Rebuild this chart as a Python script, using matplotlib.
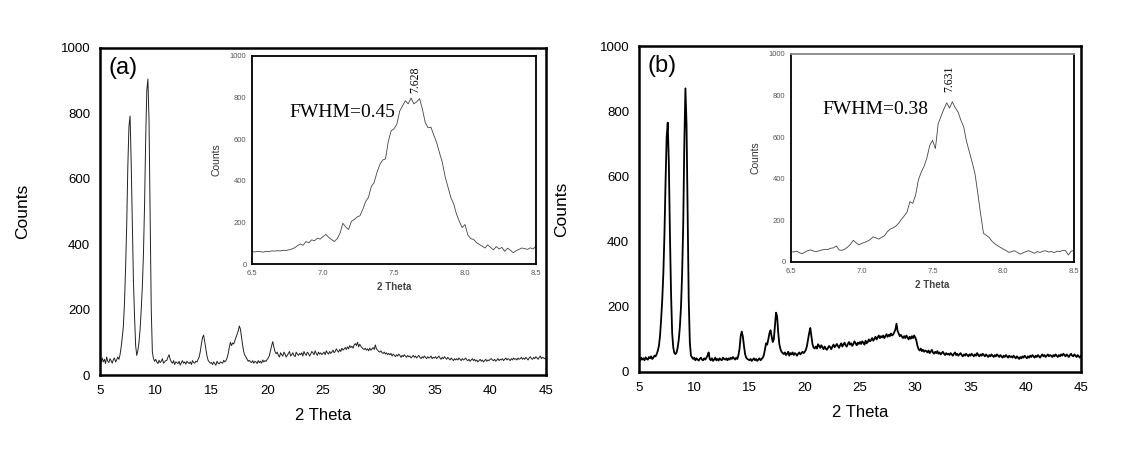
import numpy as np
import matplotlib
matplotlib.use("Agg")
import matplotlib.pyplot as plt

plt.rcParams["font.family"] = ["Liberation Sans", "DejaVu Sans"]

# ---- data (2 Theta step 0.1 for main, 0.02 for insets)
two_theta = np.round(np.arange(5.0, 45.0001, 0.1), 2)
two_theta_zoom = np.round(np.arange(6.5, 8.5001, 0.02), 2)

counts_a = [
    45, 38, 52, 40, 48, 35, 55, 42, 38, 50, 44, 36, 47, 52, 40, 46, 55, 48, 62, 85,
    115, 150, 220, 330, 460, 640, 760, 792, 650, 470, 290, 180, 90, 60, 75, 100, 140, 200, 270, 370,
    520, 720, 870, 905, 780, 500, 200, 70, 50, 42, 48, 40, 35, 45, 38, 42, 50, 36, 40, 44,
    45, 55, 62, 48, 40, 36, 44, 32, 40, 38, 35, 42, 30, 38, 44, 36, 40, 33, 42, 38,
    35, 40, 32, 44, 38, 36, 42, 40, 48, 55, 72, 95, 115, 122, 100, 78, 58, 45, 40, 36,
    38, 32, 40, 35, 30, 42, 36, 34, 40, 38, 36, 45, 40, 44, 52, 65, 85, 100, 90, 98,
    95, 105, 115, 125, 135, 150, 140, 115, 90, 70, 60, 55, 48, 42, 45, 40, 38, 44, 36, 42,
    40, 35, 44, 38, 42, 36, 46, 40, 44, 42, 48, 52, 60, 75, 90, 102, 85, 72, 65, 70,
    60, 55, 68, 62, 58, 70, 64, 55, 60, 66, 72, 58, 62, 68, 60, 56, 70, 64, 60, 66,
    62, 68, 58, 72, 64, 60, 70, 66, 58, 64, 72, 68, 62, 74, 66, 60, 70, 64, 68, 62,
    66, 70, 62, 74, 68, 64, 72, 66, 70, 76, 68, 72, 80, 74, 70, 78, 72, 82, 76, 80,
    84, 78, 86, 80, 90, 84, 88, 82, 92, 96, 90, 100, 86, 94, 88, 84, 80, 78, 82, 76,
    80, 74, 82, 76, 80, 84, 78, 92, 80, 76, 72, 70, 74, 68, 66, 70, 64, 68, 62, 66,
    62, 66, 58, 64, 60, 56, 62, 58, 64, 60, 54, 60, 56, 62, 58, 54, 60, 56, 58, 52,
    56, 60, 54, 58, 52, 56, 60, 54, 50, 56, 52, 58, 54, 50, 56, 52, 54, 58, 50, 54,
    52, 56, 50, 54, 58, 52, 48, 54, 50, 56, 52, 48, 54, 50, 46, 52, 48, 44, 50, 46,
    50, 46, 52, 48, 44, 50, 46, 48, 52, 46, 44, 48, 42, 46, 50, 44, 48, 42, 46, 40,
    44, 48, 42, 46, 40, 44, 48, 42, 46, 44, 48, 50, 46, 44, 48, 42, 46, 50, 44, 48,
    46, 50, 44, 48, 52, 46, 50, 48, 44, 50, 46, 52, 48, 50, 46, 52, 48, 50, 54, 48,
    52, 48, 54, 50, 46, 52, 56, 50, 48, 54, 50, 56, 52, 48, 54, 58, 50, 54, 52, 50,
    48,
]

counts_b = [
    40, 35, 44, 38, 42, 36, 45, 40, 38, 46, 42, 48, 40, 44, 50, 48, 55, 65, 80, 110,
    160, 220, 300, 420, 580, 720, 765, 640, 420, 240, 120, 75, 58, 55, 60, 75, 100, 140, 200, 300,
    450, 700, 870, 760, 480, 220, 90, 50, 45, 40, 44, 36, 42, 38, 35, 40, 44, 38, 36, 42,
    38, 44, 50, 60, 40, 36, 42, 34, 38, 44, 36, 40, 35, 42, 38, 36, 44, 40, 38, 42,
    36, 42, 38, 44, 40, 46, 42, 38, 44, 40, 52, 72, 110, 124, 108, 80, 55, 44, 40, 38,
    36, 40, 34, 38, 42, 36, 40, 34, 38, 42, 36, 40, 44, 52, 70, 88, 84, 100, 118, 128,
    110, 92, 100, 140, 182, 170, 120, 85, 70, 62, 58, 55, 60, 52, 56, 62, 50, 58, 54, 60,
    52, 58, 55, 50, 56, 60, 54, 58, 62, 58, 62, 68, 80, 100, 120, 135, 110, 85, 75, 72,
    78, 72, 85, 80, 74, 82, 76, 70, 78, 72, 68, 74, 80, 76, 70, 78, 84, 76, 80, 86,
    80, 74, 82, 88, 78, 84, 90, 82, 78, 86, 92, 84, 88, 80, 86, 94, 88, 82, 90, 86,
    92, 86, 94, 90, 84, 96, 88, 92, 100, 94, 98, 104, 96, 102, 108, 100, 106, 112, 104, 110,
    106, 112, 104, 110, 116, 108, 114, 110, 118, 112, 115, 122, 130, 148, 126, 118, 110, 114, 108, 104,
    110, 104, 112, 106, 100, 108, 102, 110, 104, 112, 106, 96, 80, 70, 66, 72, 64, 68, 62, 66,
    64, 60, 66, 58, 62, 68, 60, 56, 62, 58, 64, 56, 60, 54, 58, 62, 56, 52, 58, 54,
    56, 52, 58, 54, 50, 56, 60, 52, 56, 50, 54, 58, 52, 48, 54, 50, 56, 52, 48, 54,
    50, 56, 52, 48, 54, 50, 58, 52, 48, 54, 50, 56, 52, 48, 54, 50, 46, 52, 48, 54,
    50, 46, 52, 48, 54, 50, 46, 52, 48, 44, 50, 46, 52, 48, 44, 50, 46, 48, 44, 50,
    46, 42, 48, 44, 40, 46, 42, 48, 44, 50, 46, 42, 48, 44, 50, 46, 52, 48, 44, 50,
    46, 52, 48, 44, 50, 54, 48, 52, 46, 50, 54, 48, 52, 50, 46, 52, 48, 54, 50, 46,
    52, 48, 54, 50, 56, 52, 48, 54, 50, 46, 52, 56, 50, 48, 54, 50, 46, 52, 48, 44,
    50,
]

zoom_a = [
    60, 58, 61, 59, 57, 61, 60, 63, 62, 64,
    63, 66, 65, 68, 72, 78, 88, 96, 90, 108,
    102, 116, 112, 124, 120, 132, 142, 128, 118, 108,
    122, 148, 196, 178, 166, 205, 214, 226, 232, 262,
    300, 320, 372, 392, 440, 478, 500, 505, 590, 640,
    650, 672, 735, 760, 785, 770, 798, 770, 780, 795,
    745, 680, 655, 658, 620, 585, 535, 490, 420, 370,
    320, 290, 240, 205, 175, 190, 140, 122, 118, 104,
    94, 86, 77, 92, 80, 68, 84, 72, 80, 61,
    76, 66, 54, 64, 70, 77, 74, 70, 78, 72,
    86,
]

zoom_b = [
    50, 48, 52, 44, 40, 48, 55, 58, 52, 50,
    54, 58, 61, 60, 66, 68, 77, 58, 56, 62,
    72, 85, 104, 92, 82, 90, 94, 100, 108, 121,
    116, 110, 118, 126, 145, 158, 164, 172, 186, 205,
    222, 240, 290, 282, 320, 395, 432, 460, 500, 560,
    585, 545, 665, 700, 735, 765, 740, 770, 742, 722,
    682, 650, 580, 530, 480, 424, 330, 230, 138, 128,
    118, 100, 88, 78, 70, 62, 55, 46, 50, 54,
    46, 38, 44, 50, 54, 48, 42, 50, 46, 52,
    54, 48, 50, 45, 52, 50, 56, 54, 34, 52,
    56,
]

panel_labels = ["(a)", "(b)"]
fwhm_labels = ["FWHM=0.45", "FWHM=0.38"]
peak_labels = ["7.628", "7.631"]
fwhm_pos = [(6.76, 726), (6.72, 731)]
peak_pos = [(7.65, 822), (7.62, 817)]

fig = plt.figure(figsize=(11.27, 4.49), dpi=100)

main_rects = [[0.0887, 0.1648, 0.3957, 0.7283], [0.567, 0.1715, 0.3922, 0.726]]
inset_rects = [[0.2236, 0.412, 0.252, 0.4633], [0.7019, 0.4165, 0.2511, 0.4633]]
main_series = [counts_a, counts_b]
zoom_series = [zoom_a, zoom_b]
main_lw = [0.7, 1.3]
main_color = ["#222222", "black"]

for i in range(2):
    ax = fig.add_axes(main_rects[i])
    ax.plot(two_theta, main_series[i], color=main_color[i], lw=main_lw[i])
    ax.set_xlim(5, 45)
    ax.set_ylim(0, 1000)
    ax.set_xticks(np.arange(5, 46, 5))
    ax.set_yticks(np.arange(0, 1001, 200))
    ax.tick_params(length=0, labelsize=9.5, pad=7)
    for s in ax.spines.values():
        s.set_linewidth(1.8)
    ax.set_xlabel("2 Theta", fontsize=12, labelpad=8)
    ax.set_ylabel("Counts", fontsize=12.5)
    ax.yaxis.set_label_coords(-0.157, 0.5)
    ax.text(0.02, 0.94, panel_labels[i], transform=ax.transAxes, fontsize=17,
            ha="left", va="center")

    ins = fig.add_axes(inset_rects[i])
    ins.plot(two_theta_zoom, zoom_series[i], color="#444444", lw=0.6)
    ins.set_xlim(6.5, 8.5)
    ins.set_ylim(0, 1000)
    ins.set_xticks([6.5, 7.0, 7.5, 8.0, 8.5])
    ins.set_xticklabels(["6.5", "7.0", "7.5", "8.0", "8.5"])
    ins.set_yticks(np.arange(0, 1001, 200))
    ins.tick_params(length=0, labelsize=5.5, pad=4, colors="#555555")
    for s in ins.spines.values():
        s.set_linewidth(1.3)
    if i == 1:
        ins.spines["top"].set_color("#888888")
    ins.set_xlabel("2 Theta", fontsize=7, fontweight="bold", color="#444444", labelpad=4)
    ins.set_ylabel("Counts", fontsize=7.5, color="#333333", labelpad=6)
    ins.text(fwhm_pos[i][0], fwhm_pos[i][1], fwhm_labels[i], fontsize=14,
             family=["Liberation Serif", "DejaVu Serif"], ha="left", va="center")
    ins.text(peak_pos[i][0], peak_pos[i][1], peak_labels[i], fontsize=8.5,
             family=["Liberation Serif", "DejaVu Serif"], rotation=90,
             ha="center", va="bottom")

fig.savefig("out.png", dpi=100)
